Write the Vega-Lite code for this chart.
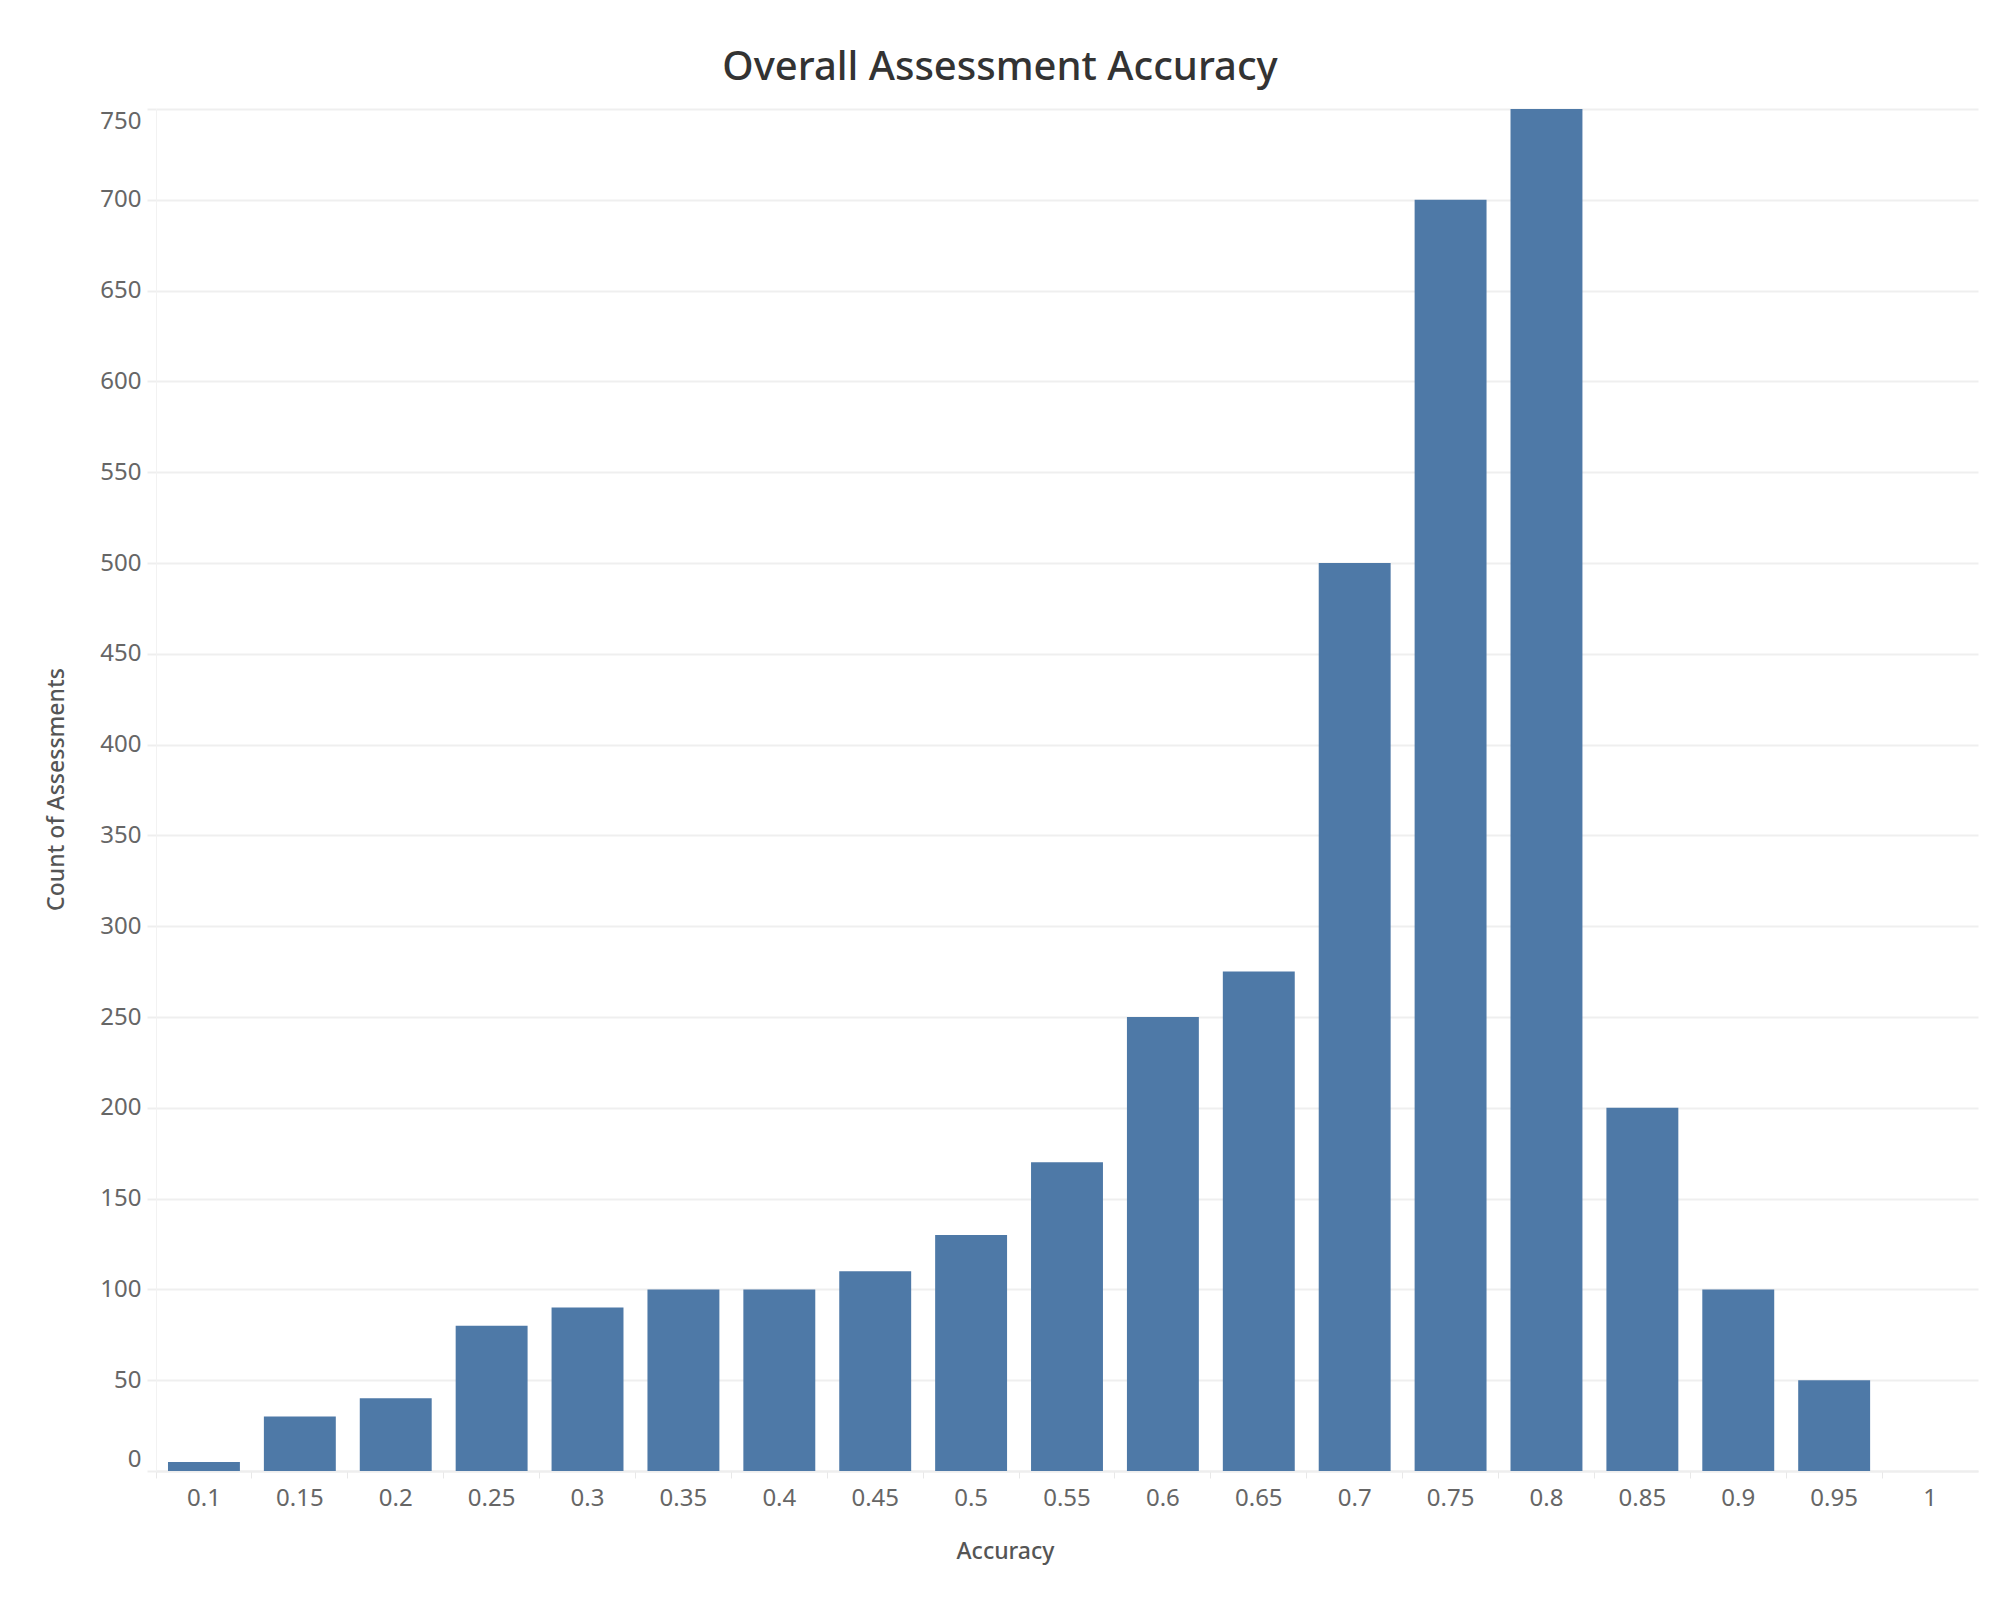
{
  "$schema": "https://vega.github.io/schema/vega-lite/v6.json",
  "autosize": {"type": "none"},
  "width": 1822,
  "height": 1362,
  "padding": {"left": 156, "top": 109, "right": 22, "bottom": 129},
  "background": "white",
  "title": {
    "text": "Overall Assessment Accuracy",
    "font": "Noto Sans",
    "fontSize": 40,
    "fontWeight": 500,
    "color": "#333333",
    "anchor": "middle",
    "offset": 20,
    "dx": -67
  },
  "data": {
    "values": [
      {"Accuracy": 0.1, "Count": 5},
      {"Accuracy": 0.15, "Count": 30},
      {"Accuracy": 0.2, "Count": 40},
      {"Accuracy": 0.25, "Count": 80},
      {"Accuracy": 0.3, "Count": 90},
      {"Accuracy": 0.35, "Count": 100},
      {"Accuracy": 0.4, "Count": 100},
      {"Accuracy": 0.45, "Count": 110},
      {"Accuracy": 0.5, "Count": 130},
      {"Accuracy": 0.55, "Count": 170},
      {"Accuracy": 0.6, "Count": 250},
      {"Accuracy": 0.65, "Count": 275},
      {"Accuracy": 0.7, "Count": 500},
      {"Accuracy": 0.75, "Count": 700},
      {"Accuracy": 0.8, "Count": 750},
      {"Accuracy": 0.85, "Count": 200},
      {"Accuracy": 0.9, "Count": 100},
      {"Accuracy": 0.95, "Count": 50},
      {"Accuracy": 1, "Count": 0}
    ]
  },
  "mark": {"type": "bar", "color": "#4e79a7", "width": {"band": 0.75}},
  "encoding": {
    "x": {
      "field": "Accuracy",
      "type": "ordinal",
      "scale": {"paddingInner": 0, "paddingOuter": 0},
      "axis": {
        "title": "Accuracy",
        "labelAngle": 0,
        "bandPosition": 0,
        "labelFont": "Noto Sans",
        "labelFontSize": 24,
        "labelColor": "#666666",
        "labelPadding": 8,
        "tickSize": 7,
        "tickColor": "#e8e8e8",
        "domainColor": "#eeeeee",
        "domainWidth": 2,
        "titleFont": "Noto Sans",
        "titleFontSize": 23,
        "titleFontWeight": 500,
        "titleColor": "#555555",
        "titlePadding": 30,
        "titleX": 849,
        "grid": false
      }
    },
    "y": {
      "field": "Count",
      "type": "quantitative",
      "scale": {"domain": [0, 750], "nice": false},
      "axis": {
        "title": "Count of Assessments",
        "values": [0, 50, 100, 150, 200, 250, 300, 350, 400, 450, 500, 550, 600, 650, 700, 750],
        "labelFlush": true,
        "labelFont": "Noto Sans",
        "labelFontSize": 24,
        "labelColor": "#666666",
        "labelPadding": 6,
        "tickSize": 9,
        "tickColor": "#eeeeee",
        "tickWidth": 2,
        "domainColor": "#f2f2f2",
        "gridColor": "#efefef",
        "gridWidth": 2,
        "titleFont": "Noto Sans",
        "titleFontSize": 23,
        "titleFontWeight": 500,
        "titleColor": "#555555",
        "titlePadding": 31,
        "titleY": 680
      }
    }
  },
  "config": {
    "view": {"stroke": null}
  }
}
